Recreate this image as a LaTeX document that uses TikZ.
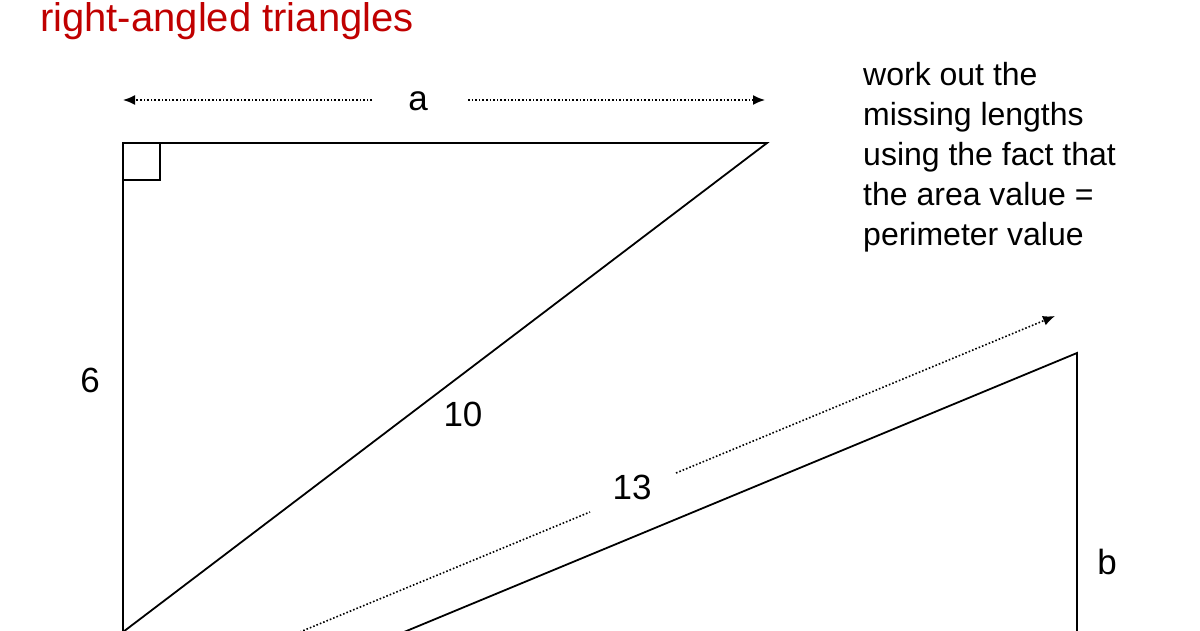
\documentclass[tikz,border=0pt]{standalone}
\usepackage{fontspec}
\setmainfont{Liberation Sans}
\usetikzlibrary{arrows.meta}
\definecolor{titlered}{HTML}{C00000}
\begin{document}
\begin{tikzpicture}[x=1pt,y=-1pt,
  lbl/.style={inner sep=0pt,font=\fontsize{35}{40}\selectfont},
  dotarrow/.style={dotted,line width=1.6pt,-{Latex[length=12pt,width=10pt]}},
  edge/.style={line width=1.8pt}]
\useasboundingbox (0,0) rectangle (1200,630);
\clip (0,0) rectangle (1200,630);
\node[anchor=west,inner sep=0pt,text=titlered,font=\fontsize{40}{44}\selectfont] (title) at (40,21) {right-angled triangles};
% triangle 1
\coordinate (A) at (123,143);
\coordinate (B) at (767,143);
\coordinate (C) at (123,632);
\draw[edge] (C) -- (A) -- (B) -- (C);
\draw[edge] (C) -- (123,700);
\draw[line width=1.4pt] (123,180) -- (160,180) -- (160,143);
\node[lbl] (a) at (418,101) {a};
\coordinate (a1) at (372,100); \coordinate (a1e) at (123,100);
\coordinate (a2) at (468,100); \coordinate (a2e) at (765,100);
\draw[dotarrow] (a1) -- (a1e);
\draw[dotarrow] (a2) -- (a2e);
\node[lbl] (six) at (90,380) {6};
\node[lbl] (ten) at (463,414) {10};
% triangle 2
\coordinate (P) at (1077,353);
\coordinate (Q) at (1077,700);
\coordinate (R) at (240,700);
\draw[edge] (R) -- (P) -- (Q);
\node[lbl] (b) at (1107,562) {b};
\node[lbl] (thirteen) at (632,487) {13};
\coordinate (d1) at (590,512); \coordinate (d0) at (220,665);
\coordinate (d2) at (676,473); \coordinate (d2e) at (1055,316);
\draw[dotted,line width=1.6pt] (d0) -- (d1);
\draw[dotarrow] (d2) -- (d2e);
\node[anchor=north west,inner sep=0pt,align=left,font=\fontsize{32}{40}\selectfont] (txt) at (863,62)
 {work out the\\missing lengths\\using the fact that\\the area value =\\perimeter value};
\end{tikzpicture}
\end{document}
